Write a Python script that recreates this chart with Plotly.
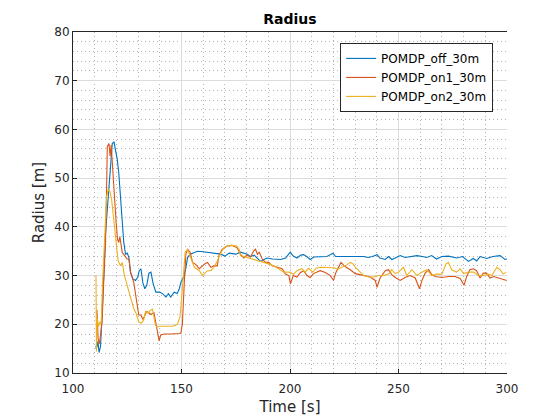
import plotly.graph_objects as go

# ---- data ----
t_off = [110.5, 110.8, 111.5, 112.0, 112.7, 113.5, 114.2, 115.0, 115.8, 116.6, 117.4, 118.1, 118.9,
         119.6, 120.4, 121.1, 121.9, 122.7, 123.4, 124.2, 125.0, 125.7, 126.5, 127.6, 128.8, 129.8,
         130.5, 131.3, 132.2, 133.1, 134.0, 135.0, 135.9, 137.0, 138.2, 140.0, 141.5, 142.8, 144.0,
         145.0, 146.6, 148.0, 149.0, 149.7, 151.3, 152.0, 152.8, 154.0, 155.1, 157.3, 160.0, 162.0,
         165.0, 168.0, 170.0, 172.0, 175.0, 177.2, 180.3, 181.8, 183.5, 185.0, 186.4, 188.0, 189.4,
         192.0, 195.6, 198.0, 200.1, 201.5, 203.2, 205.0, 206.3, 208.0, 209.3, 211.0, 214.0, 217.0,
         219.8, 221.0, 224.0, 228.0, 231.0, 234.0, 236.0, 238.0, 240.1, 241.5, 243.9, 245.4, 247.0,
         249.0, 250.8, 253.0, 255.4, 258.5, 261.0, 263.0, 265.3, 267.5, 270.0, 273.0, 276.8, 279.5,
         282.2, 284.5, 286.0, 287.6, 290.6, 293.5, 296.8, 299.1, 300.0]
v_off = [15.5, 15.0, 16.5, 14.2, 15.5, 21.9, 30.0, 38.8, 44.0, 49.0, 54.0, 57.1, 57.4,
         55.8, 53.8, 51.0, 46.3, 40.9, 36.8, 34.4, 34.6, 33.8, 30.7, 29.3, 29.0, 29.6,
         31.0, 31.4, 28.5, 27.3, 28.0, 30.5, 30.7, 28.2, 26.6, 26.6, 26.2, 25.6, 26.3,
         25.6, 26.6, 26.3, 27.3, 28.6, 30.0, 31.5, 33.7, 34.4, 34.6, 35.0, 34.9, 34.8,
         34.6, 34.4, 34.0, 34.6, 34.4, 34.8, 34.4, 33.9, 34.2, 33.6, 32.9, 33.3, 33.6,
         33.4, 33.3, 33.6, 34.8, 34.0, 33.6, 34.2, 34.3, 33.8, 33.3, 33.8, 33.9, 33.9,
         34.6, 33.9, 33.9, 33.9, 33.9, 33.9, 33.7, 33.9, 34.3, 33.6, 33.3, 33.9, 33.3,
         33.8, 34.1, 33.7, 33.9, 34.1, 33.9, 33.7, 34.1, 33.4, 33.9, 34.0, 33.6, 33.9,
         32.9, 33.5, 33.0, 33.9, 33.5, 33.9, 34.1, 33.3, 33.4]

t_on1 = [111.0, 111.6, 112.2, 112.8, 113.4, 114.2, 115.0, 115.5, 115.8, 116.6, 117.1, 117.6, 118.4,
         119.2, 119.9, 120.5, 121.1, 121.6, 122.1, 122.7, 123.5, 124.9, 125.8, 126.5, 128.0, 129.1,
         130.3, 131.3, 132.2, 133.0, 134.0, 135.0, 136.0, 137.3, 138.0, 138.6, 139.7, 140.4, 142.2,
         145.0, 147.0, 149.0, 149.7, 150.4, 151.3, 152.0, 152.8, 154.0, 155.1, 156.5, 158.2, 159.7,
         161.0, 162.0, 163.5, 165.0, 166.5, 167.2, 168.7, 171.1, 173.3, 175.6, 177.2, 178.7, 180.0,
         181.8, 183.3, 184.1, 185.0, 185.8, 187.2, 188.7, 190.2, 191.8, 194.1, 196.4, 197.9, 199.5,
         200.2, 201.5, 203.2, 204.7, 206.3, 207.8, 209.3, 210.8, 213.9, 216.0, 218.6, 220.1, 221.0,
         222.4, 223.5, 225.5, 227.8, 230.1, 234.0, 237.0, 239.3, 240.1, 241.5, 243.9, 245.4, 246.9,
         248.5, 250.8, 253.0, 255.4, 257.7, 259.7, 260.8, 262.3, 263.9, 265.3, 266.9, 270.0, 273.1,
         276.0, 278.4, 280.2, 281.4, 282.9, 284.5, 286.0, 287.6, 289.1, 290.6, 292.2, 293.8, 296.8,
         299.9]
v_on1 = [23.0, 17.0, 16.0, 19.0, 20.5, 29.3, 36.8, 48.0, 56.5, 57.1, 54.5, 56.8, 51.0,
         44.2, 40.8, 37.5, 36.8, 38.0, 36.0, 34.7, 34.3, 33.4, 33.4, 30.7, 28.6, 25.2,
         21.9, 21.9, 21.0, 21.7, 22.6, 22.3, 22.0, 22.4, 20.5, 19.6, 16.6, 17.8, 18.0,
         18.0, 18.0, 18.1, 18.2, 20.0, 28.6, 34.4, 35.4, 34.8, 32.7, 32.3, 31.4, 32.0,
         32.5, 32.7, 31.7, 32.0, 32.0, 34.0, 35.4, 36.1, 36.2, 35.7, 34.4, 33.6, 34.2,
         33.8, 35.1, 35.4, 34.4, 34.8, 33.4, 32.7, 32.7, 32.0, 31.7, 31.4, 30.3, 30.0,
         28.3, 30.0, 29.7, 30.6, 31.0, 30.0, 29.6, 30.4, 31.0, 30.7, 30.0, 29.0, 30.5,
         31.9, 32.7, 31.8, 31.2, 30.4, 30.0, 29.7, 29.0, 27.6, 29.5, 31.0, 31.2, 30.2,
         29.6, 29.0, 29.6, 30.0, 29.5, 27.3, 29.0, 30.5, 31.2, 30.2, 29.8, 29.6, 29.8,
         29.8, 29.4, 28.0, 29.8, 31.2, 31.4, 31.0, 29.5, 30.5, 30.5, 29.5, 29.8, 29.4,
         29.0]

t_on2 = [110.6, 110.8, 111.2, 111.8, 112.4, 113.0, 113.7, 114.6, 115.5, 116.2, 117.0, 117.8, 118.4,
         119.2, 119.9, 120.8, 121.9, 122.7, 123.7, 124.9, 126.0, 126.9, 128.0, 129.1, 130.3, 131.3,
         132.5, 133.4, 134.5, 135.5, 136.6, 137.3, 138.0, 138.6, 140.0, 143.0, 146.0, 148.1, 149.3,
         150.4, 151.0, 151.7, 152.8, 154.3, 155.9, 158.2, 159.7, 161.0, 162.0, 163.5, 165.0, 166.6,
         168.2, 169.7, 172.0, 175.1, 176.6, 177.2, 180.3, 183.3, 185.6, 187.9, 190.2, 192.5, 194.9,
         197.2, 199.5, 201.7, 203.2, 205.5, 207.0, 208.6, 210.5, 212.0, 214.0, 217.1, 220.1, 222.0,
         225.5, 227.8, 229.0, 230.5, 232.5, 234.0, 236.3, 238.5, 240.9, 243.0, 245.4, 246.9, 248.5,
         250.0, 252.3, 253.8, 256.2, 258.5, 260.8, 263.1, 265.3, 267.6, 270.0, 271.9, 273.0, 274.5,
         276.8, 278.4, 280.0, 282.2, 284.5, 286.8, 289.1, 291.4, 293.0, 294.5, 295.3, 296.8, 298.3,
         299.6]
v_on2 = [30.0, 14.4, 21.2, 19.5, 20.5, 20.0, 29.3, 39.5, 46.3, 47.6, 47.3, 45.6, 42.9,
         39.5, 36.1, 33.0, 32.0, 32.7, 30.0, 28.0, 26.6, 25.2, 23.2, 22.2, 20.5, 20.2,
         20.8, 22.6, 22.3, 22.8, 23.1, 21.5, 19.8, 19.5, 19.6, 19.6, 19.6, 20.0, 21.5,
         27.3, 32.0, 34.8, 35.4, 33.7, 31.7, 31.0, 30.0, 30.6, 31.0, 31.0, 31.7, 33.1,
         34.7, 35.8, 36.2, 36.1, 35.4, 34.1, 33.7, 33.4, 33.0, 32.7, 32.4, 32.0, 31.4,
         30.7, 30.7, 30.3, 31.0, 31.4, 30.7, 31.5, 30.7, 31.5, 31.7, 31.7, 31.6, 31.3,
         32.0, 32.7, 32.4, 31.5, 30.7, 30.0, 29.7, 29.7, 30.0, 30.0, 30.3, 31.2, 30.4,
         30.7, 31.7, 30.0, 31.2, 30.0, 30.7, 31.2, 30.0, 30.3, 30.3, 32.4, 32.7, 31.2,
         30.7, 31.4, 30.4, 30.7, 30.7, 30.0, 30.0, 30.3, 30.0, 31.2, 31.7, 31.2, 30.3,
         30.7]

names = ["POMDP_off_30m", "POMDP_on1_30m", "POMDP_on2_30m"]
colors = ["#0072BD", "#D95319", "#EDB120"]
x_ticks = [100, 150, 200, 250, 300]
y_ticks = [10, 20, 30, 40, 50, 60, 70, 80]

FONT = "DejaVu Sans"
TXT = "#262626"

# page body has an 8px margin: figure is sized so that the plot area lands at
# x 73..507, y 32..373 of the 560x420 window
W, H = 552, 412
ML, MR, MT, MB = 65, 53, 24, 47

fig = go.Figure()
for t, v, n, c in zip([t_off, t_on1, t_on2], [v_off, v_on1, v_on2], names, colors):
    fig.add_trace(go.Scatter(x=t, y=v, mode="lines", name=n,
                             line=dict(color=c, width=1.1)))

axis_common = dict(
    showline=True, linecolor=TXT, linewidth=1,
    ticks="inside", ticklen=4, tickcolor=TXT,
    showgrid=True, gridcolor="#dcdcdc", gridwidth=1,
    zeroline=False, automargin=False,
    tickfont=dict(family=FONT, size=12, color=TXT),
)

plot_cx = (ML + (W - MR)) / 2 / W

fig.update_layout(
    width=W, height=H,
    margin=dict(l=ML, r=MR, t=MT, b=MB, autoexpand=False),
    paper_bgcolor="white", plot_bgcolor="white",
    font=dict(family=FONT, size=12, color=TXT),
    title=dict(text="<b>Radius</b>", x=plot_cx, xanchor="center",
               y=1 - 11 / H, yanchor="middle", yref="container",
               font=dict(family=FONT, size=14, color="black")),
    showlegend=True,
    legend=dict(x=0.968, xanchor="right", y=0.968, yanchor="top",
                bgcolor="white", bordercolor=TXT, borderwidth=1,
                font=dict(family=FONT, size=12, color="black"),
                tracegroupgap=0),
)

fig.update_xaxes(range=[100, 300], tickvals=x_ticks, mirror=True, ticklabelstandoff=5,
                 title=dict(text="Time [s]", font=dict(family=FONT, size=15, color=TXT), standoff=6),
                 minor=dict(dtick=10, tick0=100, showgrid=True, griddash="1px,3px",
                            gridcolor="#b4b4b4", gridwidth=1, ticks=""),
                 **axis_common)
fig.update_yaxes(range=[10, 80], tickvals=y_ticks,
                 title=dict(text="Radius [m]", font=dict(family=FONT, size=15, color=TXT), standoff=6),
                 minor=dict(dtick=2, tick0=10, showgrid=True, griddash="1px,3px",
                            gridcolor="#b4b4b4", gridwidth=1, ticks=""),
                 **axis_common)

fig.write_html("out.html")
